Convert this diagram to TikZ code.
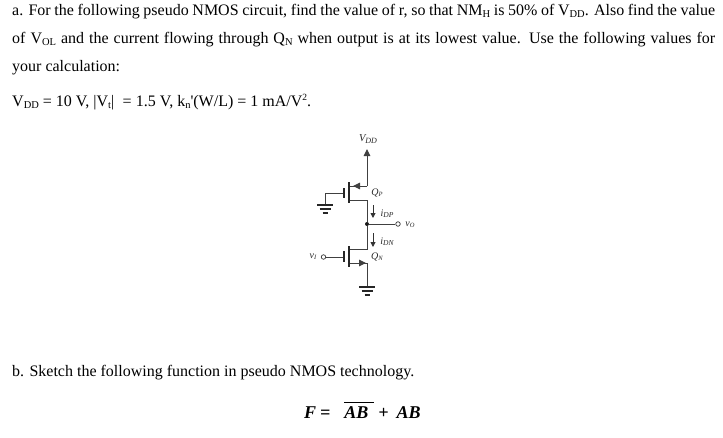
\documentclass[tikz,border=0pt]{standalone}
\usepackage{fontspec}
\setmainfont{Liberation Serif}
\usetikzlibrary{positioning,arrows.meta}
\newcommand{\lowtxt}[1]{\raisebox{-0.3ex}{\fontsize{10.5}{10.5}\selectfont #1}}
\newcommand{\hightxt}[1]{\raisebox{0.7ex}{\fontsize{9.5}{9.5}\selectfont #1}}
\tikzset{bodytext/.style={inner sep=0pt,font=\fontsize{16}{28}\selectfont},
	wire/.style={draw,black!75,line width=1pt},
	plate/.style={draw,black!85,line width=1.5pt},
	openpin/.style={circle,draw,black!80,fill=white,line width=0.7pt,minimum size=4.5pt,inner sep=0pt},
	dotpin/.style={circle,fill=black!90,minimum size=4pt,inner sep=0pt},
	circlabel/.style={inner sep=0pt,font=\fontsize{10}{11}\selectfont\itshape,text=black!85},
	bigtip/.style={-{Triangle[length=7pt,width=6.5pt]}},
	currarrow/.style={draw,black!80,line width=0.9pt,-{Triangle[length=5pt,width=5pt]}},
	gnd/.pic={
		\draw[black!85,line width=1.3pt] (-8,0) -- (8,0);
		\draw[black!85,line width=1.3pt] (-5.5,4) -- (5.5,4);
		\draw[black!85,line width=1.3pt] (-2.5,8) -- (2.5,8);
	},
}
\begin{document}
\begin{tikzpicture}[x=1pt,y=-1pt]
	\useasboundingbox (0,0) rectangle (723,437);
	% question text
	\node[bodytext,anchor=base west,text width=703pt,align=justify] (parta) at (12,15) {a. For the following pseudo NMOS circuit, find the value of r, so that NM\lowtxt{H} is 50\% of V\lowtxt{DD}. Also find the value of V\lowtxt{OL} and the current flowing through Q\lowtxt{N} when output is at its lowest value. Use the following values for\linebreak your calculation:};
	\node[bodytext,anchor=base west] (vals) at (12,106) {V\lowtxt{DD} = 10 V, |V\lowtxt{t}| \;= 1.5 V, k\lowtxt{n}\textquotesingle(W/L) = 1 mA/V\hightxt{2}.};
	\node[bodytext,anchor=base west] (partb) at (12,376) {b. Sketch the following function in pseudo NMOS technology.};
	\node[inner sep=0pt,anchor=base west,font=\fontsize{18}{20}\selectfont\bfseries\itshape] (func) at (304,418) {F\hspace{4pt}=\hspace{14pt}$\overline{\hbox{\rule{0pt}{14pt}AB\hspace{6pt}}}$\hspace{4pt}+\hspace{8pt}AB};
	% circuit points
	\coordinate (vtop) at (367,149);
	\coordinate (ps) at (367,186);
	\coordinate (pchs) at (349,186);
	\coordinate (pd) at (367,200);
	\coordinate (pchd) at (349,200);
	\coordinate (pg) at (344,193);
	\coordinate (pgl) at (325,193);
	\coordinate (pgnd) at (325,205);
	\coordinate (nd) at (367,249);
	\coordinate (nchd) at (349,249);
	\coordinate (ns) at (367,263);
	\coordinate (nchs) at (349,263);
	\coordinate (ng) at (344,257);
	\coordinate (ngnd) at (367,287);
	\node[dotpin] (out) at (367,224) {};
	\node[openpin] (vo) at (398,224) {};
	\node[openpin] (vi) at (323.5,257) {};
	\node[circlabel,font=\fontsize{10.5}{11}\selectfont\itshape] (vdd) at (368,139) {V\lowtxt{\fontsize{8}{8}\selectfont DD}};
	\node[circlabel] (qp) at (377,193) {Q\lowtxt{\fontsize{6.5}{6.5}\selectfont P}};
	\node[circlabel] (qn) at (377,257) {Q\lowtxt{\fontsize{6.5}{6.5}\selectfont N}};
	\node[circlabel] (idp) at (387,214) {i\lowtxt{\fontsize{7.5}{7.5}\selectfont DP}};
	\node[circlabel] (idn) at (387,242) {i\lowtxt{\fontsize{7.5}{7.5}\selectfont DN}};
	\node[circlabel] (lvo) at (410,225) {v\lowtxt{\fontsize{6.5}{6.5}\selectfont O}};
	\node[circlabel] (lvi) at (313,257) {v\lowtxt{\fontsize{6.5}{6.5}\selectfont I}};
	% wires
	\draw[wire,bigtip] (ps) -- (vtop);
	\draw[wire] (ps) -- (pchs);
	\draw[wire,bigtip] (ps) -- (353,186);
	\draw[wire] (pchd) -- (pd) -- (out) -- (nd) -- (nchd);
	\draw[wire] (out) -- (vo);
	\draw[wire] (pg) -- (pgl) -- (pgnd);
	\draw[wire] (vi) -- (ng);
	\draw[wire] (nchs) -- (ns) -- (ngnd);
	\draw[wire,bigtip] (nchs) -- (366,263);
	% gate and channel plates
	\draw[plate] (349,182) -- (349,203);
	\draw[plate] (344,188) -- (344,198);
	\draw[plate] (349,246) -- (349,267);
	\draw[plate] (344,251) -- (344,262);
	% current arrows
	\draw[currarrow] (373,205) -- (373,218);
	\draw[currarrow] (373,233) -- (373,247);
	% grounds
	\pic at (pgnd) {gnd};
	\pic at (ngnd) {gnd};
\end{tikzpicture}
\end{document}
